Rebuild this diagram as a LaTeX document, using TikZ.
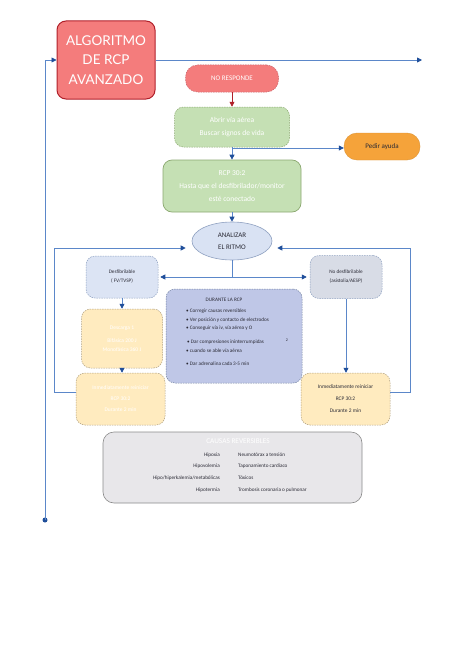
\documentclass[tikz,border=0pt]{standalone}
\usepackage{fontspec}
\setmainfont{Carlito}
\newfontfamily\titlefont{Lato}
\usetikzlibrary{arrows.meta,shapes.geometric}
\definecolor{lineblue}{HTML}{5B87C9}
\definecolor{tipblue}{HTML}{1F4E9A}
\definecolor{redfill}{HTML}{F47C7C}
\definecolor{redborder}{HTML}{B0202A}
\definecolor{greenfill}{HTML}{C5E0B4}
\definecolor{greenborder}{HTML}{8BA870}
\definecolor{orangefill}{HTML}{F5A33A}
\definecolor{ellfill}{HTML}{D9E2F3}
\definecolor{ellborder}{HTML}{8EA0C0}
\definecolor{desffill}{HTML}{DCE4F4}
\definecolor{nodesffill}{HTML}{D8DCE6}
\definecolor{yelfill}{HTML}{FFEBBF}
\definecolor{yelborder}{HTML}{B0A080}
\definecolor{durfill}{HTML}{BFC7E7}
\definecolor{durborder}{HTML}{7080A0}
\definecolor{caufill}{HTML}{E8E7EA}
\definecolor{cauborder}{HTML}{8A8A8A}
\definecolor{darktext}{HTML}{2A2A35}
\tikzset{
  x=1pt, y=-1pt,
  box/.style={rounded corners=9pt, align=center, inner sep=1pt},
  dashedborder/.style={dash pattern=on 1.5pt off 1pt, line width=0.5pt},
  conn/.style={draw=lineblue, line width=0.8pt, -{Triangle[length=5pt,width=5pt,color=tipblue]}},
  plain/.style={draw=lineblue, line width=0.8pt},
  redconn/.style={draw=redborder, line width=0.8pt, -{Triangle[length=5pt,width=5pt,color=redborder]}},
  mid/.style={font=\fontsize{7.5}{13}\selectfont, text=white},
  small/.style={font=\fontsize{5.2}{8}\selectfont, text=darktext, inner sep=0pt},
}
\begin{document}
\begin{tikzpicture}
\useasboundingbox (0,0) rectangle (474,669);
% title
\node[box, fill=redfill, draw=redborder, line width=1pt, minimum width=98pt, minimum height=78pt,
  font=\titlefont\fontsize{13.5}{19.5}\selectfont, text=white] (title) at (106,60)
  {ALGORITMO\\DE RCP\\AVANZADO};
\coordinate (topend) at (422,60);
\fill[tipblue] (45,520) circle (2.5pt) coordinate (dot);
\coordinate (dotc) at (45,520);
\draw[conn] (title.east) -- (topend);
\draw[conn] (dotc) |- (title.west);
% no responde
\node[box, rounded corners=12pt, fill=redfill, draw=redborder!70, dashedborder, minimum width=93pt, minimum height=27pt,
  font=\fontsize{7}{9}\selectfont, text=white] (nr) at (232,78.5) {NO RESPONDE};
\node[box, fill=greenfill, draw=greenborder, dashedborder, minimum width=115pt, minimum height=40pt, mid] (abrir) at (232,127)
  {Abrir vía aérea\\Buscar signos de vida};
\node[box, rounded corners=13pt, fill=orangefill, draw=orangefill!90!black, line width=0.4pt, minimum width=76pt, minimum height=27pt,
  font=\fontsize{7}{9}\selectfont, text=darktext] (pedir) at (382,146.5) {Pedir ayuda};
\node[box, fill=greenfill, draw=greenborder, line width=0.7pt, minimum width=138pt, minimum height=52pt, mid] (rcp) at (232,186)
  {RCP 30:2\\Hasta que el desfibrilador/monitor\\esté conectado};
\node[ellipse, fill=ellfill, draw=ellborder, line width=0.6pt, minimum width=80pt, minimum height=38pt, inner sep=0pt, align=center,
  font=\fontsize{7}{12}\selectfont, text=darktext] (ana) at (232,241) {ANALIZAR\\EL RITMO};
\draw[redconn] (nr.south) -- (abrir.north);
\coordinate (br) at (232,148);
\draw[conn] (abrir.south) -- (rcp.north);
\draw[conn] (br) -- (br -| pedir.west);
\draw[conn] (rcp.south) -- (ana.north);
% desfibrilable branches
\node[box, fill=desffill, draw=ellborder, dashedborder, minimum width=72pt, minimum height=42pt,
  font=\fontsize{5.2}{9}\selectfont, text=darktext] (desf) at (122,277) {Desfibrilable\\( FV/TVSP)};
\node[box, fill=nodesffill, draw=ellborder, dashedborder, minimum width=72pt, minimum height=43pt,
  font=\fontsize{5.2}{9}\selectfont, text=darktext] (nodesf) at (346,277) {No desfibrilable\\(asistolia/AESP)};
\coordinate (split) at (232,277);
\draw[plain] (ana.south) -- (split);
\draw[conn] (split) -- ([xshift=2pt]desf.east);
\draw[conn] (split) -- ([xshift=-3pt]nodesf.west);
% yellow boxes
\node[box, fill=yelfill, draw=yelborder, dashedborder, minimum width=81pt, minimum height=59pt,
  font=\fontsize{5.5}{9}\selectfont, text=white] (y1) at (122,338.5) {Descarga 1\\[4pt]Bifásica 200 J\\Monofásica 360 J};
\node[box, fill=yelfill, draw=yelborder, dashedborder, minimum width=89pt, minimum height=52pt,
  font=\fontsize{5.5}{11}\selectfont, text=white] (y2) at (120.5,399) {Inmediatamente reiniciar\\RCP 30:2\\Durante 2 min};
\node[box, fill=yelfill, draw=yelborder, dashedborder, minimum width=89pt, minimum height=52pt,
  font=\fontsize{5.4}{12}\selectfont, text=darktext] (y3) at (345.5,399) {Inmediatamente reiniciar\\RCP 30:2\\Durante 2 min};
\draw[conn] (desf.south) -- (y1.north);
\draw[conn] (y1.south) -- ([xshift=1.5pt]y2.north);
\draw[conn] (nodesf.south) -- ([xshift=0.5pt]y3.north);
\draw[conn] ([yshift=7pt]y2.west) -- ++(-21,0) |- ([xshift=-6pt,yshift=-7pt]ana.west);
\draw[conn] ([yshift=7pt]y3.east) -- ++(20,0) |- ([xshift=5pt,yshift=-7pt]ana.east);
% durante la RCP
\node[box, fill=durfill, draw=durborder, dashedborder, minimum width=136pt, minimum height=94pt] (dur) at (234,336) {};
\node[small] (durt) at (224,300) {DURANTE LA RCP};
\node[small, anchor=west] (d1) at (186,311) {• Corregir causas reversibles};
\node[small, anchor=west] (d2) at (186,320) {• Ver posición y contacto de electrodos};
\node[small, anchor=west] (d3) at (186,328.5) {• Conseguir vía iv, vía aérea y O};
\node[small, anchor=west] (d4) at (187,342) {• Dar compresiones ininterrumpidas};
\node[small, anchor=west] (d5) at (186,351) {• cuando se able vía aérea};
\node[small, anchor=west] (d6) at (186,364) {• Dar adrenalina cada 3-5 min};
\node[small, font=\fontsize{4}{5}\selectfont] (d7) at (287,340.5) {2};
% causas reversibles
\node[box, rounded corners=11pt, fill=caufill, draw=cauborder, line width=0.6pt, minimum width=259pt, minimum height=71pt] (cau) at (232.5,467.5) {};
\node[font=\fontsize{7.3}{9}\selectfont, text=white, inner sep=0pt] (caut) at (238,441) {CAUSAS REVERSIBLES};
\node[small, anchor=east] (c1) at (220,455) {Hipoxia};
\node[small, anchor=east] (c2) at (220,466) {Hipovolemia};
\node[small, anchor=east] (c3) at (220,478) {Hipo/hiperkalemia/metabólicas};
\node[small, anchor=east] (c4) at (220,490) {Hipotermia};
\node[small, anchor=west] (c5) at (238,455) {Neumotórax a tensión};
\node[small, anchor=west] (c6) at (238,466) {Taponamiento cardíaco};
\node[small, anchor=west] (c7) at (238,478) {Tóxicos};
\node[small, anchor=west] (c8) at (238,490) {Trombosis coronaria o pulmonar};
\end{tikzpicture}
\end{document}
